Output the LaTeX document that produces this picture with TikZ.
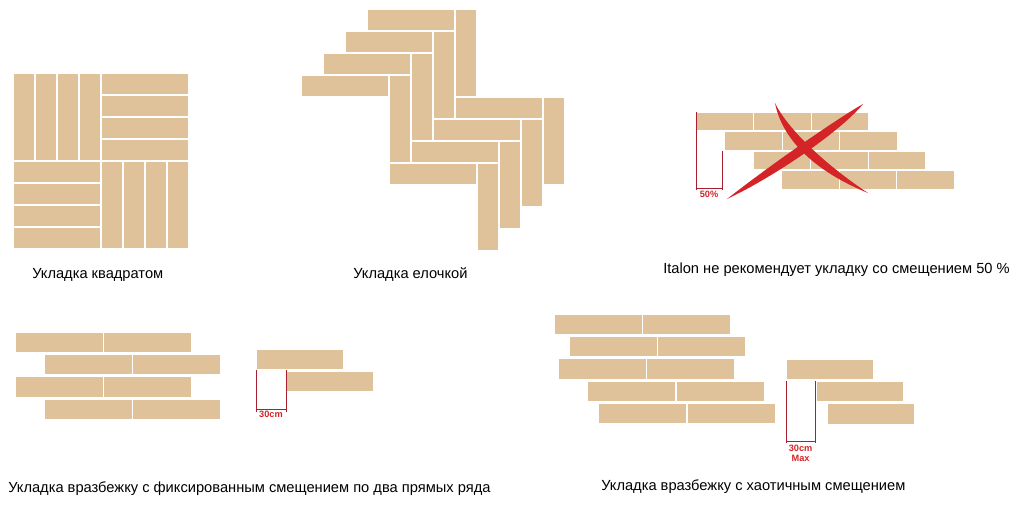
\documentclass[tikz,border=0pt]{standalone}
\usepackage{fontspec}
\setmainfont{Liberation Sans}
\definecolor{tile}{RGB}{224,194,154}
\definecolor{dimred}{RGB}{168,32,45}
\definecolor{crossred}{RGB}{212,36,40}

\begin{document}
\begin{tikzpicture}[x=0.75pt,y=-0.75pt,
    plank/.style={fill=tile,draw=white,line width=0.9pt},
    dimline/.style={draw=dimred,line width=0.6pt},
    dimtext/.style={text=crossred,font=\fontsize{6.9}{7.5}\selectfont\bfseries,inner sep=0pt},
    caption/.style={anchor=base west,inner sep=0pt,font=\fontsize{11}{13}\selectfont}]
  \useasboundingbox (0,0) rectangle (1011,511);

  % square pattern
  \foreach \i in {0,...,3} {
    \draw[plank] ({13+22*\i},73) rectangle ++(22,88);
    \draw[plank] (101,{73+22*\i}) rectangle ++(88,22);
    \draw[plank] (13,{161+22*\i}) rectangle ++(88,22);
    \draw[plank] ({101+22*\i},161) rectangle ++(22,88);
  }
  \node[caption] (capsquare) at (32,278) {Укладка квадратом};

  % herringbone
  \foreach \i in {0,...,3} {
    \draw[plank] ({367-22*\i},{9+22*\i}) rectangle ++(88,22);
    \draw[plank] ({455-22*\i},{9+22*\i}) rectangle ++(22,88);
    \draw[plank] ({455-22*\i},{97+22*\i}) rectangle ++(88,22);
    \draw[plank] ({543-22*\i},{97+22*\i}) rectangle ++(22,88);
  }
  \node[caption] (capherring) at (353,278) {Укладка елочкой};

  % 50 % offset
  \foreach \r in {0,...,3}
    \foreach \k in {0,1,2}
      \draw[plank,line width=0.7pt] ({696+28.5*\r+57.5*\k},{112+19.5*\r}) rectangle ++(57.5,18.5);
  \coordinate (h50a) at (696,112);
  \coordinate (h50b) at (722,151);
  \draw[dimline] (h50a) -- (696,190);
  \draw[dimline] (h50b) -- (722,190);
  \draw[dimline] (696,188.3) -- (722,188.3);
  \node[dimtext] (lbl50) at (709,194) {50\%};
  \fill[crossred] (775,103) .. controls (786,126) and (820,161) .. (868,193)
    .. controls (814,171) and (782,139) .. cycle;
  \fill[crossred] (863,104) .. controls (835,120) and (769,166) .. (727,199)
    .. controls (776,176) and (842,130) .. cycle;
  \node[caption] (capitalon) at (663,273) {Italon не рекомендует укладку со смещением 50 \%};

  % fixed offset
  \draw[plank] (15,332) rectangle ++(88.5,20.5);
  \draw[plank] (103.5,332) rectangle ++(88.5,20.5);
  \draw[plank] (44,354.3) rectangle ++(88.5,20.5);
  \draw[plank] (132.5,354.3) rectangle ++(88.5,20.5);
  \draw[plank] (15,376.6) rectangle ++(88.5,20.5);
  \draw[plank] (103.5,376.6) rectangle ++(88.5,20.5);
  \draw[plank] (44,398.9) rectangle ++(88.5,20.5);
  \draw[plank] (132.5,398.9) rectangle ++(88.5,20.5);
  \draw[plank] (256,349) rectangle ++(88,20.5);
  \draw[plank] (286,371.3) rectangle ++(88,20.5);
  \draw[dimline] (256,370) -- (256,411.5);
  \draw[dimline] (286,370) -- (286,411.5);
  \draw[dimline] (256,409.5) -- (286,409.5);
  \node[dimtext] (lbl30a) at (271,414.5) {30cm};
  \node[caption] (capfixed) at (8,492.5) {Укладка вразбежку с фиксированным смещением по два прямых ряда};

  % random offset
  \draw[plank] (554,314) rectangle ++(88.5,20.5);
  \draw[plank] (642.5,314) rectangle ++(88.5,20.5);
  \draw[plank] (569,336.3) rectangle ++(88.5,20.5);
  \draw[plank] (657.5,336.3) rectangle ++(88.5,20.5);
  \draw[plank] (558,358.6) rectangle ++(88.5,20.5);
  \draw[plank] (646.5,358.6) rectangle ++(88.5,20.5);
  \draw[plank] (587,380.9) rectangle ++(89,20.5);
  \draw[plank] (676,380.9) rectangle ++(88.5,20.5);
  \draw[plank] (598,403.2) rectangle ++(89,20.5);
  \draw[plank] (687,403.2) rectangle ++(88.5,20.5);
  \draw[plank] (786,359) rectangle ++(87.5,20.5);
  \draw[plank] (816,381.3) rectangle ++(87.5,20.5);
  \draw[plank] (827,403.6) rectangle ++(87.5,20.5);
  \draw[dimline] (786,381) -- (786,443);
  \draw[dimline] (815.3,381) -- (815.3,443);
  \draw[dimline] (786,441) -- (815.3,441);
  \node[dimtext] (lbl30b) at (800.6,448.5) {30cm};
  \node[dimtext] (lblmax) at (800.6,458.5) {Max};
  \node[caption] (capchaos) at (601,490.5) {Укладка вразбежку с хаотичным смещением};
\end{tikzpicture}
\end{document}
